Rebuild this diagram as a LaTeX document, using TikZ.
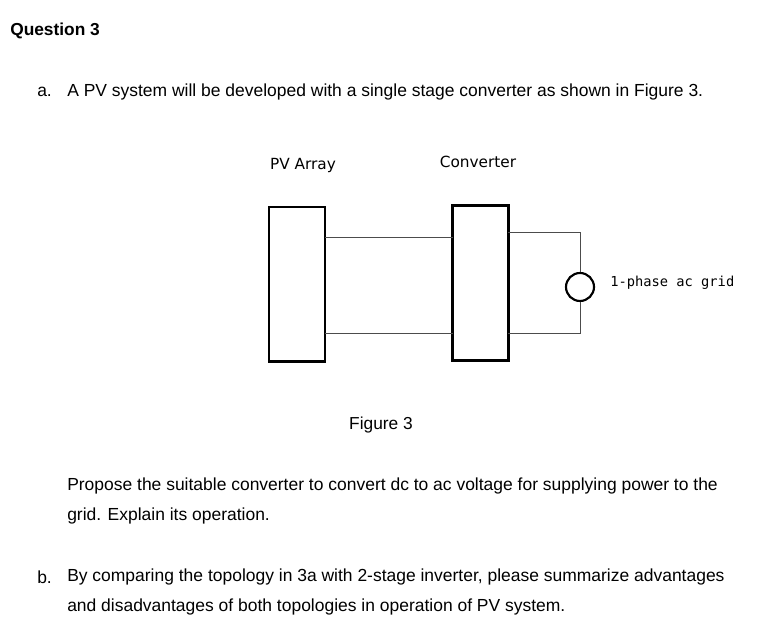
\documentclass[tikz,border=0pt]{standalone}
\usepackage{fontspec}
\setmainfont{Liberation Sans}
\newfontfamily\labfont{DejaVu Sans}
\newfontfamily\monofont{DejaVu Sans Mono}
\begin{document}
\begin{tikzpicture}[x=0.75pt,y=-0.75pt,
  txt/.style={anchor=west,inner sep=0pt,font=\fontsize{13.1}{15}\selectfont},
  lab/.style={inner sep=0pt,font=\labfont\fontsize{11.5}{13}\selectfont},
  blk/.style={draw,line width=2pt,minimum width=42pt,minimum height=116pt,inner sep=0pt},
  wire/.style={draw=black!70,line width=0.6pt}]
\useasboundingbox (0,0) rectangle (765,641);
\node[txt,font=\bfseries\fontsize{13}{15}\selectfont] (q) at (10,31) {Question 3};
\node[txt] (al) at (37,92) {a.};
\node[txt] (at) at (67,92) {A PV system will be developed with a single stage converter as shown in Figure 3.};
\node[lab] (pvl) at (303,166) {PV Array};
\node[lab] (cvl) at (478,162) {Converter};
\node[blk] (pv) at (297,284.5) {};
\node[blk] (cv) at (480.5,283) {};
\coordinate (p1) at (325,237); \coordinate (p2) at (325,333);
\coordinate (c1) at (453,237); \coordinate (c2) at (453,333);
\draw[wire] (p1) -- (c1);
\draw[wire] (p2) -- (c2);
\node[draw,line width=1.6pt,circle,minimum size=21pt,inner sep=0pt] (g) at (580,287) {};
\coordinate (o1) at (508,232); \coordinate (o2) at (508,333);
\draw[wire] (o1) -- (580,232) -- (g.north);
\draw[wire] (o2) -- (580,333) -- (g.south);
\node[anchor=west,inner sep=0pt,font=\monofont\fontsize{10.3}{12}\selectfont] (gl) at (610,283) {1-phase ac grid};
\node[lab,font=\fontsize{13}{15}\selectfont] (fig) at (381,425) {Figure 3};
\node[txt] (p1t) at (67,486) {Propose the suitable converter to convert dc to ac voltage for supplying power to the};
\node[txt] (p2t) at (67,516) {grid. Explain its operation.};
\node[txt] (bl) at (37,577) {b.};
\node[txt] (b1) at (67,577) {By comparing the topology in 3a with 2-stage inverter, please summarize advantages};
\node[txt] (b2) at (67,607) {and disadvantages of both topologies in operation of PV system.};
\end{tikzpicture}
\end{document}
